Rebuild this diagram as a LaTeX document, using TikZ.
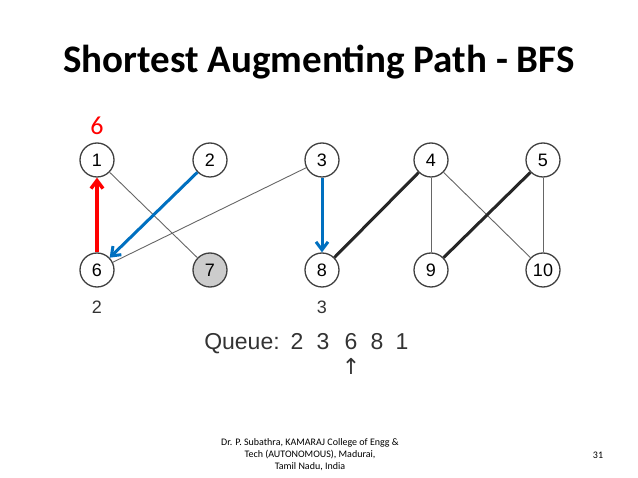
\documentclass[tikz,border=0pt]{standalone}
\usepackage{fontspec}
\usetikzlibrary{arrows.meta}
\setmainfont{Carlito}
\newfontfamily\arl{Liberation Sans}
\newfontfamily\djv{DejaVu Sans}
\begin{document}
\begin{tikzpicture}[x=1pt,y=-1pt,
  vtx/.style={circle,draw=black!75,line width=1.3pt,minimum size=34pt,inner sep=0pt,font=\arl\fontsize{18}{18}\selectfont,fill=white},
  thin/.style={draw=black!60,line width=0.9pt},
  thick/.style={draw=black!85,line width=3pt},
  blu/.style={draw={rgb,255:red,0;green,112;blue,192},line width=3pt,-{Straight Barb[length=8pt,width=12pt]}},
  rd/.style={draw=red,line width=3.5pt,-{Straight Barb[length=8pt,width=12pt]}},
  lab/.style={font=\arl\fontsize{18}{18}\selectfont,text=black!80},
  qt/.style={font=\arl\fontsize{23}{23}\selectfont,text=black!80,anchor=base}]
\useasboundingbox (0,0) rectangle (638,478);
\node[font=\bfseries\fontsize{39}{39}\selectfont] at (319,62) {Shortest Augmenting Path - BFS};
\foreach \n/\x in {1/97,2/210,3/322,4/431,5/543} \node[vtx] (v\n) at (\x,160) {\n};
\foreach \n/\x in {6/97,8/322,9/431,10/543} \node[vtx] (v\n) at (\x,270) {\n};
\node[vtx,fill=black!20] (v7) at (210,270) {7};
\draw[thin] (v1) -- (v7);
\draw[thin] (v3) -- (v6);
\draw[thin] (v4) -- (v9);
\draw[thin] (v4) -- (v10);
\draw[thin] (v5) -- (v10);
\draw[thick] (v4) -- (v8);
\draw[thick] (v5) -- (v9);
\draw[rd] (v6) -- (v1);
\draw[blu] (v2) -- (v6);
\draw[blu] (v3) -- (v8);
\node[text=red,font=\fontsize{26}{26}\selectfont] (r6) at (97,126) {6};
\node[lab] (l2) at (97,307) {2};
\node[lab] (l3) at (322,307) {3};
\node[qt] (q) at (242,350) {Queue:};
\foreach \d/\x in {2/297,3/323,6/351,8/377,1/402} \node[qt] (q\d) at (\x,350) {\d};
\node[font=\djv\fontsize{22}{22}\selectfont,text=black!80] (ar) at (351,366) {↑};
\node[font=\fontsize{10}{12}\selectfont,align=center] (f) at (310,455) {Dr. P. Subathra, KAMARAJ College of Engg \&\\ Tech (AUTONOMOUS), Madurai,\\ Tamil Nadu, India};
\node[font=\fontsize{10}{12}\selectfont] (pg) at (598,455) {31};
\end{tikzpicture}
\end{document}
